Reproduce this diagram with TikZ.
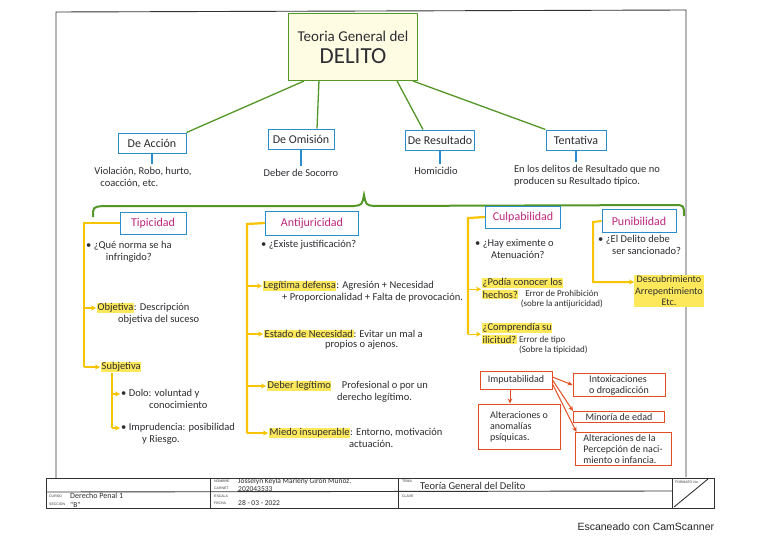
\documentclass[tikz,border=0pt]{standalone}
\usepackage{fontspec}
\setmainfont{Carlito}
\newfontfamily\escaner{Liberation Sans}
\usetikzlibrary{arrows.meta,positioning,calc}
\definecolor{verde}{RGB}{84,150,40}
\definecolor{azul}{RGB}{40,140,205}
\definecolor{rosa}{RGB}{190,40,125}
\definecolor{amarillo}{RGB}{246,196,0}
\definecolor{resalte}{RGB}{252,232,90}
\definecolor{naranja}{RGB}{226,78,34}
\definecolor{tinta}{RGB}{45,45,50}
\definecolor{crema}{RGB}{255,252,228}
\newcommand{\resalta}[1]{{\setlength{\fboxsep}{0.5pt}\colorbox{resalte}{#1}}}
\tikzset{>=Stealth}

\begin{document}
\begin{tikzpicture}[x=1pt, y=-1pt,
    font=\fontsize{10.5}{12}\selectfont, text=tinta,
    titulo/.style={rectangle, draw=verde, line width=1.1pt, fill=crema,
        minimum width=129pt, minimum height=67pt, align=center, inner sep=2pt},
    tipo/.style={rectangle, draw=azul, line width=1pt, minimum height=20pt,
        inner sep=2pt, font=\fontsize{12}{13}\selectfont},
    elemento/.style={tipo, text=rosa, font=\fontsize{12}{13}\selectfont},
    nota/.style={align=left, inner sep=1pt},
    caja/.style={rectangle, draw=naranja, line width=1pt, align=left,
        inner sep=2pt, font=\fontsize{10}{11}\selectfont},
    rama/.style={draw=verde, line width=1.3pt},
    tick/.style={draw=azul, line width=1.1pt, shorten >=3pt},
    bus/.style={draw=amarillo, line width=2.2pt},
    flecha/.style={-{Stealth[length=5pt,width=5pt]}, draw=amarillo, line width=1.4pt},
    flechaR/.style={-{Stealth[length=5pt,width=4.5pt]}, draw=naranja, line width=1pt},
    marco/.style={draw=black!80, line width=0.9pt},
    rotulo/.style={font=\escaner\fontsize{3.5}{4}\selectfont, inner sep=0pt, anchor=west, text=black!80},
    firma/.style={font=\fontsize{7.5}{8}\selectfont, inner sep=0pt, anchor=west}
]
    \fill[white] (0,0) rectangle (768,543);
    \useasboundingbox (0,0) rectangle (768,543);

    \draw[marco] (56,478) -- (56,12) -- (686,10) -- (686,477);
    \draw[marco] (46,478) rectangle (714,508);
    \draw[marco] (46,492) -- (672,491);
    \draw[marco] (210,478) -- (210,508);
    \draw[marco] (398,478) -- (398,508);
    \draw[marco] (672,478) -- (672,508);
    \draw[marco] (674,507) -- (708,479);

    \node[titulo] (titulo) at (353,47) {\fontsize{15}{16}\selectfont Teoria General del\\[6pt]{\fontsize{23}{23}\selectfont DELITO}};

    \node[tipo, minimum width=68pt] (accion) at (152,143) {De Acción};
    \node[tipo, minimum width=66pt] (omision) at (301,139) {De Omisión};
    \node[tipo, minimum width=69pt] (resultado) at (440,140) {De Resultado};
    \node[tipo, minimum width=60pt] (tentativa) at (576,140) {Tentativa};

    \draw[rama] ([xshift=16pt]titulo.south west) -- (accion.north east);
    \draw[rama] ([xshift=31pt]titulo.south west) -- ([xshift=16pt]omision.north);
    \draw[rama] ([xshift=-21pt]titulo.south east) -- ([xshift=18pt]resultado.north west);
    \draw[rama] ([xshift=-5pt]titulo.south east) -- (tentativa.north west);

    \node[nota, below=13pt of accion, xshift=-9pt] (violacion) {Violación, Robo, hurto,\\\hspace*{6pt}coacción, etc.};
    \node[nota, below=19pt of omision] (socorro) {Deber de Socorro};
    \node[nota, below=16pt of resultado, xshift=-4pt] (homicidio) {Homicidio};
    \node[nota, below=14pt of tentativa, xshift=11pt] (tentnota) {En los delitos de Resultado que no\\producen su Resultado típico.};

    \draw[tick] (accion.south) -- (accion.south |- violacion.north);
    \draw[tick] (omision.south) -- (omision.south |- socorro.north);
    \draw[tick] (resultado.south) -- (resultado.south |- homicidio.north);
    \draw[tick] (tentativa.south) -- (tentativa.south |- tentnota.north);

    \draw[draw=verde, line width=2pt] (93,217) .. controls (93,207) .. (103,206) -- (354,206)
        .. controls (362,205) .. (364,195) .. controls (366,205) .. (374,206) -- (674,205)
        .. controls (684,205) .. (684,216);

    \node[elemento, minimum width=66pt, minimum height=22pt] (tipicidad) at (153,223) {Tipicidad};
    \node[elemento, minimum width=93pt, minimum height=24pt] (antijuricidad) at (312,223) {Antijuricidad};
    \node[elemento, minimum width=75pt, minimum height=22pt] (culpabilidad) at (523,217) {Culpabilidad};
    \node[elemento, minimum width=74pt, minimum height=23pt] (punibilidad) at (639,221) {Punibilidad};

    \node[nota, align=center, anchor=north west] (norma) at (85,240) {• ¿Qué norma se ha\\infringido?};
    \node[nota, anchor=west] (objetiva) at (96,308) {\resalta{Objetiva}: Descripción};
    \node[nota, anchor=north west, xshift=21pt] (objetiva2) at (objetiva.south west) {objetiva del suceso};
    \node[nota, anchor=west] (subjetiva) at (100,367) {\resalta{Subjetiva}};
    \node[nota, anchor=west] (dolo) at (120,394) {• Dolo: voluntad y};
    \node[nota, anchor=north west, xshift=28pt] (dolo2) at (dolo.south west) {conocimiento};
    \node[nota, anchor=west] (imprudencia) at (120,428) {• Imprudencia: posibilidad};
    \node[nota, anchor=north west, xshift=21pt] (imprudencia2) at (imprudencia.south west) {y Riesgo.};

    \coordinate (bustip) at (84,223);
    \coordinate (bussub) at ([xshift=12pt]subjetiva.south west);
    \draw[bus] (tipicidad.west) -- (bustip) -- (bustip |- subjetiva.west);
    \draw[flecha] (bustip |- objetiva.west) -- (objetiva.west);
    \draw[flecha] (bustip |- subjetiva.west) -- (subjetiva.west);
    \draw[bus] (bussub) -- (bussub |- imprudencia.west);
    \draw[flecha] (bussub |- dolo.west) -- (dolo.west);
    \draw[flecha] (bussub |- imprudencia.west) -- (imprudencia.west);

    \node[nota, anchor=west] (justificacion) at (260,245) {• ¿Existe justificación?};
    \node[nota, anchor=west] (legitima) at (262,286) {\resalta{Legítima defensa}: Agresión + Necesidad};
    \node[nota, anchor=north west, xshift=19pt] (legitima2) at (legitima.south west) {+ Proporcionalidad + Falta de provocación.};
    \node[nota, anchor=west] (estado) at (263,334) {\resalta{Estado de Necesidad}: Evitar un mal a};
    \node[nota, anchor=north west, xshift=61pt] (estado2) at (estado.south west) {propios o ajenos.};
    \node[nota, anchor=west] (deber) at (266,386) {\resalta{Deber legítimo}\quad Profesional o por un};
    \node[nota, anchor=north west, xshift=70pt] (deber2) at (deber.south west) {derecho legítimo.};
    \node[nota, anchor=west] (miedo) at (268,433) {\resalta{Miedo insuperable}: Entorno, motivación};
    \node[nota, anchor=north west, xshift=80pt] (miedo2) at (miedo.south west) {actuación.};

    \coordinate (busanti) at (247,224);
    \draw[bus] (antijuricidad.west) -- (busanti) -- (busanti |- miedo.west);
    \draw[flecha] (busanti |- legitima.west) -- (legitima.west);
    \draw[flecha] (busanti |- estado.west) -- (estado.west);
    \draw[flecha] (busanti |- deber.west) -- (deber.west);
    \draw[flecha] (busanti |- miedo.west) -- (miedo.west);

    \node[nota, anchor=north west] (eximente) at (474,238) {• ¿Hay eximente o\\\hspace*{16pt}Atenuación?};
    \node[nota, anchor=west] (conocer) at (481,283) {\resalta{¿Podía conocer los}};
    \node[nota, anchor=north west] (conocer2) at (conocer.south west) {\resalta{hechos?}};
    \node[nota, align=center, right=0pt of conocer2, yshift=-5pt, font=\fontsize{9}{10}\selectfont] (prohibicion) {Error de Prohibición\\(sobre la antijuricidad)};
    \node[nota, anchor=west] (comprendia) at (481,328) {\resalta{¿Comprendía su}};
    \node[nota, anchor=north west] (comprendia2) at (comprendia.south west) {\resalta{ilicitud?}};
    \node[nota, right=0pt of comprendia2, yshift=-5pt, font=\fontsize{9}{10}\selectfont] (errortipo) {Error de tipo\\(Sobre la tipicidad)};

    \coordinate (busculpa) at (468,218);
    \draw[bus] (culpabilidad.west) -- (busculpa) -- (busculpa |- comprendia.south west);
    \draw[flecha] (busculpa |- conocer.south west) -- (conocer.south west);
    \draw[flecha] (busculpa |- comprendia.south west) -- (comprendia.south west);

    \node[nota, anchor=north west] (sancion) at (597,234) {• ¿El Delito debe\\\hspace*{14pt}ser sancionado?};
    \node[nota, align=center, fill=resalte, anchor=west, font=\fontsize{10}{11.5}\selectfont] (descubrimiento) at (634,291) {Descubrimiento\\Arrepentimiento\\Etc.};
    \coordinate (buspuni) at (593,222);
    \coordinate (descL) at ([yshift=9pt]descubrimiento.west);
    \draw[flecha, line width=2pt] (punibilidad.west) -- (buspuni) |- (descL);

    \node[caja, minimum width=72pt, minimum height=18pt] (imputabilidad) at (516,380) {Imputabilidad};
    \node[caja, minimum width=82pt, minimum height=45pt, below=14pt of imputabilidad, xshift=3pt] (anomalias) {Alteraciones o\\anomalías\\psíquicas.};
    \node[caja, minimum width=92pt] (intoxicaciones) at (619,385) {Intoxicaciones\\o drogadicción};
    \node[caja, minimum width=91pt] (minoria) at (619,417) {Minoría de edad};
    \node[caja, minimum width=96pt] (percepcion) at (623,449) {Alteraciones de la\\Percepción de naci-\\miento o infancia.};

    \draw[flechaR] ([xshift=-6pt]imputabilidad.south) -- ([xshift=-9pt]anomalias.north);
    \draw[flechaR] ([yshift=3pt]imputabilidad.east) -- (intoxicaciones.west);
    \draw[flechaR] (imputabilidad.east) -- (minoria.north west);
    \draw[flechaR] ([yshift=-4pt]imputabilidad.east) -- ([xshift=2pt]percepcion.north west);

    \node[rotulo] (nombrelbl) at (214,481) {NOMBRE};
    \node[firma] (nombre) at (238,481) {Josselyn Keyla Marleny Girón Muñoz.};
    \node[rotulo] (carnetlbl) at (214,488) {CARNET};
    \node[firma] (carnet) at (238,489) {202043533};
    \node[rotulo] (escalalbl) at (214,496) {ESCALA};
    \node[rotulo] (fechalbl) at (214,503) {FECHA};
    \node[firma] (fecha) at (238,503) {28 - 03 - 2022};
    \node[rotulo] (cursolbl) at (49,496) {CURSO};
    \node[firma, font=\fontsize{8}{8}\selectfont] (curso) at (70,496) {Derecho Penal 1};
    \node[rotulo] (seccionlbl) at (49,504) {SECCIÓN};
    \node[firma] (seccion) at (70,504.5) {“B”};
    \node[rotulo] (temalbl) at (402,481) {TEMA};
    \node[firma, font=\fontsize{10.5}{11}\selectfont] (tema) at (420,486) {Teoría General del Delito};
    \node[rotulo] (clavelbl) at (402,496) {CLAVE};
    \node[rotulo] (formatolbl) at (675,482) {FORMATO No.};

    \node[font=\escaner\fontsize{10.5}{12}\selectfont, text=black!85, anchor=west] (scanner) at (574,527) {Escaneado con CamScanner};
\end{tikzpicture}
\end{document}
